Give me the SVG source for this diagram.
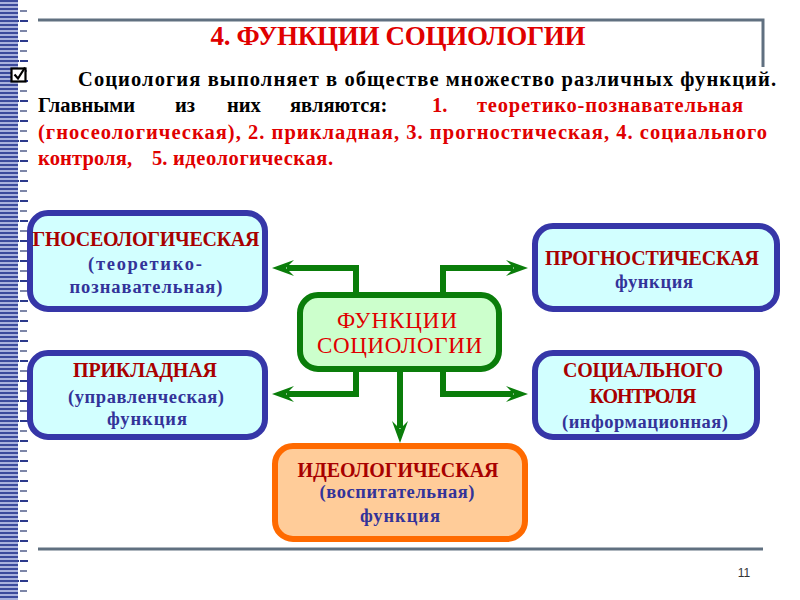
<svg xmlns="http://www.w3.org/2000/svg" width="800" height="600" viewBox="0 0 800 600">
<defs>
<style>
.para{font-family:"Liberation Serif","Times New Roman",serif;font-weight:bold;font-size:20.5px}
.blk{fill:#000}
.red{fill:#e00000}
.hd{font-family:"Liberation Serif","Times New Roman",serif;font-weight:bold;font-size:20px;fill:#a80000;text-anchor:middle}
.sub{font-family:"Liberation Serif","Times New Roman",serif;font-weight:bold;font-size:18.5px;fill:#333399;text-anchor:middle}
.ctr{font-family:"Liberation Serif","Times New Roman",serif;font-size:23px;fill:#e00000;text-anchor:middle}
.bbox{fill:#d2ffff;stroke:#3636a8;stroke-width:6}
.conn{fill:none;stroke:#0a7d0a;stroke-width:6;stroke-linejoin:miter}
.frame{fill:none;stroke:#607080;stroke-width:3}
</style>
<pattern id="stripes" width="18" height="4" patternUnits="userSpaceOnUse">
<rect width="18" height="4" fill="#a9b1dc"/>
<rect width="18" height="2" fill="#3c4a9c"/>
</pattern>
<pattern id="ticks" width="10" height="20" patternUnits="userSpaceOnUse">
<rect x="0" y="0" width="9" height="2" fill="#2c3a8c"/>
<rect x="0" y="10" width="7" height="2" fill="#7d86a8"/>
</pattern>
<marker id="arr" markerUnits="userSpaceOnUse" markerWidth="24" markerHeight="20" refX="7" refY="9" orient="auto">
<path d="M0,1 L22,9 L0,17 L8,9 Z" fill="#0a7d0a"/>
</marker>
</defs>
<rect width="800" height="600" fill="#fff"/>
<rect x="0" y="0" width="18" height="600" fill="url(#stripes)"/>
<rect x="18" y="4" width="10" height="596" fill="url(#ticks)"/>
<path class="frame" d="M38,20 H763 V67"/>
<path class="frame" d="M38,549 H763"/>
<text x="398" y="45" text-anchor="middle" textLength="375" lengthAdjust="spacing" style="font-family:'Liberation Serif','Times New Roman',serif;font-weight:bold;font-size:27px;fill:#e00000">4. ФУНКЦИИ СОЦИОЛОГИИ</text>
<g id="bullet">
<rect x="11.5" y="68.5" width="14" height="13" fill="#fff" stroke="#000" stroke-width="2.2"/>
<path d="M14.5,74.5 L18,78.5 L25,67.5" fill="none" stroke="#000" stroke-width="2.2"/>
</g>
<text class="para blk" x="78" y="86" textLength="698" lengthAdjust="spacing">Социология выполняет в обществе множество различных функций.</text>
<text class="para" y="112"><tspan class="blk" x="38">Главными</tspan><tspan class="blk" x="175">из</tspan><tspan class="blk" x="227">них</tspan><tspan class="blk" x="290">являются:</tspan><tspan class="red" x="432">1.</tspan><tspan class="red" x="477" textLength="266" lengthAdjust="spacing">теоретико-познавательная</tspan></text>
<text class="para red" x="38" y="139" textLength="729" lengthAdjust="spacing">(гносеологическая), 2. прикладная, 3. прогностическая, 4. социального</text>
<text class="para red" y="165"><tspan x="38" textLength="94" lengthAdjust="spacing">контроля,</tspan><tspan x="152">5.</tspan><tspan x="173" textLength="160" lengthAdjust="spacing">идеологическая.</tspan></text>
<text x="744" y="577" text-anchor="middle" style="font-family:'Liberation Sans',Arial,sans-serif;font-size:12px;fill:#333">11</text>
<g id="connectors">
<path class="conn" d="M356,295 V268 H287" marker-end="url(#arr)"/>
<path class="conn" d="M443,295 V268 H513" marker-end="url(#arr)"/>
<path class="conn" d="M356,369 V394 H287" marker-end="url(#arr)"/>
<path class="conn" d="M443,369 V394 H513" marker-end="url(#arr)"/>
<path class="conn" d="M400,369 V428" marker-end="url(#arr)"/>
</g>
<g id="gnoseological">
<rect class="bbox" x="30" y="213" width="235" height="96" rx="18"/>
<text class="hd" x="146" y="246" textLength="227" lengthAdjust="spacing">ГНОСЕОЛОГИЧЕСКАЯ</text>
<text class="sub" x="145" y="270" textLength="114" lengthAdjust="spacing">(теоретико-</text>
<text class="sub" x="146" y="293" textLength="153" lengthAdjust="spacing">познавательная)</text>
</g>
<g id="prognostic">
<rect class="bbox" x="535" y="226" width="242" height="83" rx="18"/>
<text class="hd" x="652" y="265" textLength="214" lengthAdjust="spacing">ПРОГНОСТИЧЕСКАЯ</text>
<text class="sub" x="654" y="288" textLength="78" lengthAdjust="spacing">функция</text>
</g>
<g id="center">
<rect x="300" y="295" width="199" height="74" rx="18" fill="#ccffcc" stroke="#0a7d0a" stroke-width="6"/>
<text class="ctr" x="397" y="328" textLength="120" lengthAdjust="spacing">ФУНКЦИИ</text>
<text class="ctr" x="399.5" y="353" textLength="165" lengthAdjust="spacing">СОЦИОЛОГИИ</text>
</g>
<g id="applied">
<rect class="bbox" x="30" y="353" width="235" height="84" rx="18"/>
<text class="hd" x="145" y="377" textLength="144" lengthAdjust="spacing">ПРИКЛАДНАЯ</text>
<text class="sub" x="146" y="403" textLength="156" lengthAdjust="spacing">(управленческая)</text>
<text class="sub" x="147" y="425" textLength="80" lengthAdjust="spacing">функция</text>
</g>
<g id="social-control">
<rect class="bbox" x="535" y="353" width="222" height="84" rx="18"/>
<text class="hd" x="643" y="377" textLength="160" lengthAdjust="spacing">СОЦИАЛЬНОГО</text>
<text class="hd" x="643" y="403" textLength="107" lengthAdjust="spacing">КОНТРОЛЯ</text>
<text class="sub" x="645" y="428" textLength="166" lengthAdjust="spacing">(информационная)</text>
</g>
<g id="ideological">
<rect x="275" y="446" width="250" height="93" rx="18" fill="#ffcc99" stroke="#ff6a00" stroke-width="6"/>
<text class="hd" x="398" y="477" textLength="201" lengthAdjust="spacing">ИДЕОЛОГИЧЕСКАЯ</text>
<text class="sub" x="397" y="498" textLength="155" lengthAdjust="spacing">(воспитательная)</text>
<text class="sub" x="400" y="522" textLength="80" lengthAdjust="spacing">функция</text>
</g>
</svg>
